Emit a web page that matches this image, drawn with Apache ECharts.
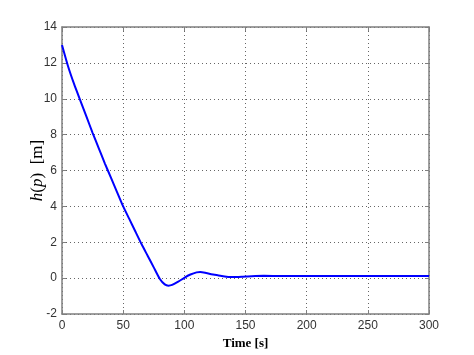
<!DOCTYPE html>
<html><head><meta charset="utf-8">
<script src="https://cdn.jsdelivr.net/npm/echarts@6/dist/echarts.min.js"></script>
<style>html,body{margin:0;padding:0;background:#fff}#c{width:474px;height:355px}</style>
</head><body><div id="c"></div>
<script>
var timeValues = [0,5,10,15,20,25,30,35,40,45,50,55,60,65,70,75,80,84,87,90,95,100,105,110,113,117,122,128,133,138,143,148,155,165,180,200,220,250,280,300];
var heightValues = [13.0,11.8,10.8,9.9,9.0,8.1,7.25,6.4,5.6,4.8,4.0,3.3,2.6,1.9,1.25,0.6,-0.05,-0.35,-0.42,-0.38,-0.2,0.02,0.2,0.32,0.34,0.3,0.22,0.15,0.09,0.06,0.06,0.08,0.11,0.13,0.12,0.12,0.12,0.12,0.12,0.12];
var xTicks = [0,50,100,150,200,250,300];
var yTicks = [-2,0,2,4,6,8,10,12,14];

var data = timeValues.map(function(t,i){return [t, heightValues[i]];});
var chart = echarts.init(document.getElementById('c'), null, {renderer:'canvas'});
var boxLine = {show:true, onZero:false, lineStyle:{color:'#7f7f7f', width:1.5}};
var grid = {show:true, lineStyle:{color:'#666', type:[1,3], width:1}};
var tick = {show:true, inside:true, length:4, lineStyle:{color:'#7f7f7f'}};
var lbl = {color:'#333', fontFamily:'Liberation Sans, Arial, sans-serif', fontSize:12};
chart.setOption({
  backgroundColor:'#fff',
  animation:false,
  grid:{left:62, right:45, top:27, bottom:38, containLabel:false},
  xAxis:[{
    type:'value', min:xTicks[0], max:xTicks[xTicks.length-1], interval:50,
    axisLine:boxLine, axisTick:tick,
    axisLabel:Object.assign({margin:6}, lbl),
    splitLine:grid,
    name:'Time [s]', nameLocation:'middle', nameGap:23,
    nameTextStyle:{fontFamily:'Liberation Serif, Times New Roman, serif', fontWeight:'bold', fontSize:13, color:'#000'}
  },{
    type:'value', position:'top', min:xTicks[0], max:xTicks[xTicks.length-1], interval:50,
    axisLine:boxLine, axisTick:tick,
    axisLabel:{show:false}, splitLine:{show:false}
  }],
  yAxis:[{
    type:'value', min:yTicks[0], max:yTicks[yTicks.length-1], interval:2,
    axisLine:boxLine, axisTick:tick,
    axisLabel:Object.assign({margin:5}, lbl),
    splitLine:grid,
    name:'{i|h}{r|(}{i|p}{r|)  [m]}', nameLocation:'middle', nameGap:16, nameRotate:90,
    nameMoveOverlap:false,
    nameTextStyle:{rich:{
      i:{fontFamily:'Liberation Serif, Times New Roman, serif', fontStyle:'italic', fontSize:17, color:'#000'},
      r:{fontFamily:'Liberation Serif, Times New Roman, serif', fontSize:17, color:'#000'}
    }}
  },{
    type:'value', position:'right', min:yTicks[0], max:yTicks[yTicks.length-1], interval:2,
    axisLine:boxLine, axisTick:tick,
    axisLabel:{show:false}, splitLine:{show:false}
  }],
  series:[{
    type:'line', xAxisIndex:0, yAxisIndex:0, data:data, smooth:0.2, showSymbol:false,
    lineStyle:{color:'#0000ff', width:2}
  }]
});
</script></body></html>
